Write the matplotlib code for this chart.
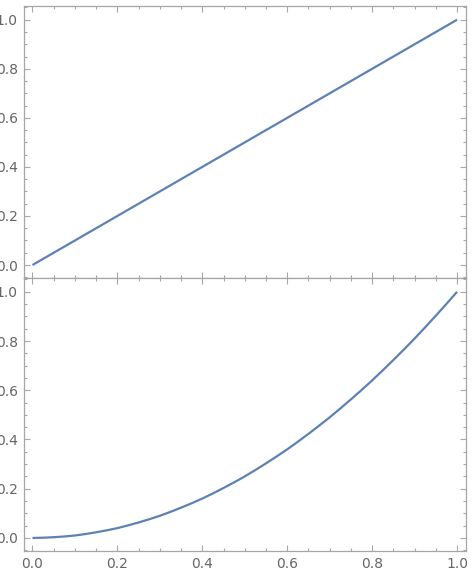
import matplotlib
matplotlib.use("Agg")
import matplotlib.pyplot as plt
import matplotlib.ticker as mticker

# values
line_x = [0.0, 1.0]
line_y = [0.0, 1.0]

curve_x = [0.0, 0.025, 0.05, 0.075, 0.1, 0.125, 0.15, 0.175, 0.2, 0.225, 0.25,
           0.275, 0.3, 0.325, 0.35, 0.375, 0.4, 0.425, 0.45, 0.475, 0.5,
           0.525, 0.55, 0.575, 0.6, 0.625, 0.65, 0.675, 0.7, 0.725, 0.75,
           0.775, 0.8, 0.825, 0.85, 0.875, 0.9, 0.925, 0.95, 0.975, 1.0]
curve_y = [0.0, 0.001, 0.003, 0.006, 0.01, 0.016, 0.023, 0.031, 0.04, 0.051, 0.063,
           0.076, 0.09, 0.106, 0.123, 0.141, 0.16, 0.181, 0.203, 0.226, 0.25,
           0.276, 0.303, 0.331, 0.36, 0.391, 0.423, 0.456, 0.49, 0.526, 0.563,
           0.601, 0.64, 0.681, 0.723, 0.766, 0.81, 0.856, 0.903, 0.951, 1.0]

tick_vals = [0.0, 0.2, 0.4, 0.6, 0.8, 1.0]

LINE = "#5E81B5"
FRAME = "#A6A6A6"
LABEL = "#666666"

W, H = 474, 575
DPI = 100

plt.rcParams["font.family"] = ["DejaVu Sans"]


def style(ax, show_x):
    for s in ax.spines.values():
        s.set_color(FRAME)
        s.set_linewidth(0.9)
    ax.set_xlim(-0.02, 1.021)
    ax.set_ylim(-0.053, 1.056)
    ax.xaxis.set_major_locator(mticker.FixedLocator(tick_vals))
    ax.yaxis.set_major_locator(mticker.FixedLocator(tick_vals))
    ax.xaxis.set_minor_locator(mticker.AutoMinorLocator(4))
    ax.yaxis.set_minor_locator(mticker.AutoMinorLocator(4))
    ax.xaxis.set_major_formatter(mticker.FormatStrFormatter("%.1f"))
    ax.yaxis.set_major_formatter(mticker.FormatStrFormatter("%.1f"))
    ax.tick_params(which="both", direction="in", top=True, right=True,
                   color=FRAME, width=0.8, labelcolor=LABEL, labelsize=10)
    ax.tick_params(which="major", length=4, pad=4.5)
    ax.tick_params(which="minor", length=2.2)
    ax.tick_params(axis="x", labelbottom=show_x)


fig = plt.figure(figsize=(W / DPI, H / DPI), dpi=DPI, facecolor="white")
left = 24 / W
right = 466 / W
mid = 1 - 278 / H
ax1 = fig.add_axes([left, mid, right - left, (1 - 6 / H) - mid])
ax2 = fig.add_axes([left, 1 - 551 / H, right - left, mid - (1 - 551 / H)])

ax1.plot(line_x, line_y, color=LINE, linewidth=1.6, solid_capstyle="butt")
ax2.plot(curve_x, curve_y, color=LINE, linewidth=1.6, solid_capstyle="butt")

style(ax1, False)
style(ax2, True)

fig.savefig("out.png", dpi=DPI, facecolor="white")
